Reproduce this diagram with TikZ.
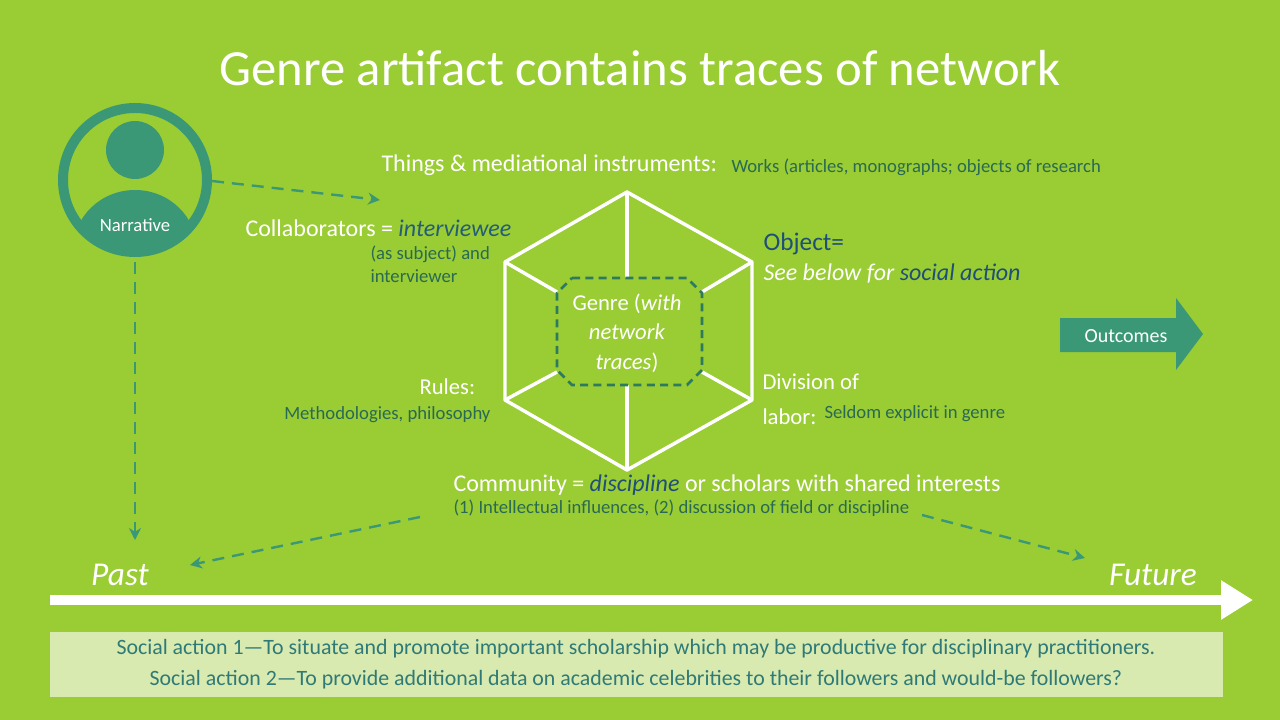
\documentclass[tikz,border=0pt]{standalone}
\usepackage{fontspec}
\setmainfont{Carlito}
\usetikzlibrary{arrows.meta}
\definecolor{bggreen}{RGB}{154,204,52}
\definecolor{teal1}{RGB}{58,152,118}
\definecolor{navy1}{RGB}{31,78,121}
\definecolor{boxgreen}{RGB}{216,234,176}
\tikzset{every picture/.style={line width=0.75pt},
  txt/.style={anchor=west,inner sep=0.75pt,text=white,font=\fontsize{18}{21}\selectfont},
  small/.style={anchor=west,inner sep=0.75pt,text=teal1!70!black,font=\fontsize{14}{17}\selectfont},
  dasharrow/.style={draw=teal1,line width=1.8pt,dash pattern=on 9pt off 6pt,-{Stealth[length=9pt,width=9pt]}},
  hexline/.style={draw=white,line width=2.6pt}}
\begin{document}
\begin{tikzpicture}[x=0.75pt,y=0.75pt,yscale=-1,xscale=1]
\fill[bggreen] (0,0) rectangle (1280,720);
\useasboundingbox (0,0) rectangle (1280,720);

% Title
\node (title) at (640,68) {\fontsize{38}{44}\selectfont\color{white}Genre artifact contains traces of network};

% Narrative icon
\draw[teal1,line width=7.5pt] (135,180) circle (72);
\fill[teal1] (135,150) circle (29);
\begin{scope}
  \clip (135,180) circle (68);
  \fill[teal1] (135,250) ellipse (62 and 60);
\end{scope}
\node[inner sep=0.75pt,text=white,font=\fontsize{14}{16}\selectfont] (narr) at (135,225) {Narrative};
\coordinate (icR) at (212,181);
\coordinate (icB) at (135,262);

% Hexagon
\coordinate (hT) at (627,192);
\coordinate (hUR) at (752,262);
\coordinate (hLR) at (752,400);
\coordinate (hB) at (627,470);
\coordinate (hLL) at (505,400);
\coordinate (hUL) at (505,262);
\draw[hexline,line join=round] (hT) -- (hUR) -- (hLR) -- (hB) -- (hLL) -- (hUL) -- cycle;
\draw[hexline] (hT) -- (627,278);
\draw[hexline] (hB) -- (627,385);
\draw[hexline] (hUL) -- (557,292);
\draw[hexline] (hUR) -- (702,292);
\draw[hexline] (hLL) -- (557,372);
\draw[hexline] (hLR) -- (702,372);
\fill[bggreen] (572,278) -- (687,278) -- (702,293) -- (702,370) -- (687,385) -- (572,385) -- (557,370) -- (557,293) -- cycle;
\draw[teal1!80!black,line width=2pt,dash pattern=on 6pt off 4pt] (572,278) -- (687,278) -- (702,293) -- (702,370) -- (687,385) -- (572,385) -- (557,370) -- (557,293) -- cycle;
\node[align=center,inner sep=0.75pt,text=white,font=\fontsize{17}{22}\selectfont] (genre) at (627,333) {Genre (\textit{with}\\\textit{network}\\\textit{traces})};

% Labels
\node[txt] (things) at (380,165) {Things \& mediational instruments:};
\node[small] (works) at (730,167) {Works (articles, monographs; objects of research};
\node[txt] (collab) at (244,228) {Collaborators = \textit{\color{navy1!80!teal1}interviewee}};
\node[small,align=left] (subj) at (369,264) {(as subject) and\\interviewer};
\node[anchor=west,inner sep=0.75pt,text=navy1,font=\fontsize{19}{22}\selectfont] (obj) at (762,244) {Object=};
\node[txt] (below) at (762,274) {\textit{See below for \color{navy1}social action}};
\node[txt,font=\fontsize{17}{20}\selectfont] (rules) at (418,387) {Rules:};
\node[small,anchor=east] (meth) at (492,415) {Methodologies, philosophy};
\node[txt,align=left,font=\fontsize{17}{26}\selectfont] (div) at (761,399) {Division of\\labor:};
\node[small] (seldom) at (823,414) {Seldom explicit in genre};
\node[txt] (comm) at (452,485) {Community = \textit{\color{navy1}discipline} or scholars with shared interests};
\node[small] (infl) at (452,508) {(1) Intellectual influences, (2) discussion of field or discipline};

% Outcomes arrow
\fill[teal1] (1060,318) -- (1176,318) -- (1176,298) -- (1203,334) -- (1176,370) -- (1176,352) -- (1060,352) -- cycle;
\node[inner sep=0.75pt,text=white,font=\fontsize{15}{18}\selectfont] (outc) at (1126,336) {Outcomes};

% Timeline
\coordinate (tlS) at (50,600);
\coordinate (tlE) at (1253,600);
\draw[white,line width=7pt,-{Triangle[length=24pt,width=28pt]}] (tlS) -- (tlE);
\node[inner sep=0.75pt,text=white,font=\itshape\fontsize{25}{29}\selectfont] (past) at (120,575) {Past};
\node[inner sep=0.75pt,text=white,font=\itshape\fontsize{25}{29}\selectfont] (fut) at (1153,575) {Future};

% Dashed arrows
\coordinate (cL) at (420,517);
\coordinate (cR) at (922,515);
\draw[dasharrow] (icR) -- (380,200);
\draw[dasharrow] (icB) -- (135,540);
\draw[dasharrow] (cL) -- (190,565);
\draw[dasharrow] (cR) -- (1085,558);

% Social action box
\fill[boxgreen] (50,632) rectangle (1223,697);
\node[align=center,inner sep=0.75pt,text=teal1!60!navy1,font=\fontsize{16.4}{23}\selectfont] (social) at (636,664) {Social action 1---To situate and promote important scholarship which may be productive for disciplinary practitioners.\\Social action 2---To provide additional data on academic celebrities to their followers and would-be followers?};
\end{tikzpicture}
\end{document}
